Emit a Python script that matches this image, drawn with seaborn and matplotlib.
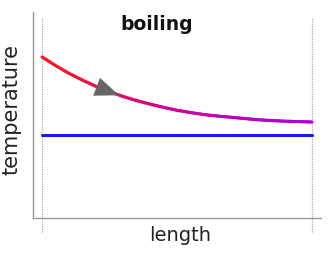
import numpy as np
import pandas as pd
import matplotlib
matplotlib.use("Agg")
import matplotlib.pyplot as plt
import seaborn as sns
from matplotlib.collections import LineCollection
from matplotlib.colors import LinearSegmentedColormap

# data
length = [0, 0.5, 1, 1.5, 2, 2.5, 3, 3.5, 4, 4.5, 5, 5.5, 6, 6.5, 7, 7.5, 8, 8.5, 9, 9.5, 10]
fluid_temp = [78.2, 74.0, 70.2, 66.9, 63.9, 61.3, 59.0, 57.0, 55.3, 53.7, 52.3,
              51.2, 50.2, 49.5, 48.9, 48.3, 47.7, 47.3, 47.0, 46.8, 46.6]
boil_length = [0, 10]
boil_temp = [40.3, 40.3]
title = "boiling"
xlabel = "length"
ylabel = "temperature"

sns.set_theme(style="white")
plt.rcParams['font.family'] = ['DejaVu Sans']

fig = plt.figure(figsize=(3.32, 2.59), dpi=100)
ax = fig.add_axes([33/332, 41/259, 288/332, 206/259])

# boiling line
sns.lineplot(x=boil_length, y=boil_temp, ax=ax, color="#1a1aff", lw=2.2)

# gradient fluid line
xs = np.asarray(length, float)
ys = np.asarray(fluid_temp, float)
pts = []
for i in range(len(xs) - 1):
    for t in np.linspace(0, 1, 8, endpoint=False):
        pts.append((xs[i] + t * (xs[i+1] - xs[i]), ys[i] + t * (ys[i+1] - ys[i])))
pts.append((xs[-1], ys[-1]))
pts = np.array(pts)
segs = np.stack([pts[:-1], pts[1:]], axis=1)
cmap = LinearSegmentedColormap.from_list("rp", ["#ff1a1a", "#d0009a", "#aa00e0"])
lc = LineCollection(segs, cmap=cmap, linewidths=2.2, capstyle="round")
lc.set_array(np.linspace(0, 1, len(segs)))
ax.add_collection(lc)

# arrow (head only, lying along the curve)
ax.annotate("", xy=(2.85, 59.6), xytext=(1.68, 65.4),
            arrowprops=dict(arrowstyle="-|>,head_length=0.85,head_width=0.34",
                            color="#666666", lw=0.1, mutation_scale=20,
                            shrinkA=0, shrinkB=0), zorder=5)

# dotted vertical guides
for xv in boil_length:
    ax.plot([xv, xv], [-6.8, 97.1], ls=(0, (1, 1)), color="#aaaaaa", lw=0.9, clip_on=False, zorder=0)

ax.set_xlim(-0.333, 10.333)
ax.set_ylim(0, 100)
ax.set_xticks([])
ax.set_yticks([])
for s in ["top", "right"]:
    ax.spines[s].set_visible(False)
for s in ["left", "bottom"]:
    ax.spines[s].set_color("#999999")
    ax.spines[s].set_linewidth(1.0)

ax.set_xlabel(xlabel, fontsize=14, color="#222222")
ax.set_ylabel(ylabel, fontsize=15, color="#222222")
ax.xaxis.set_label_coords(0.51, -0.04, transform=ax.transAxes)
ax.yaxis.set_label_coords(-0.04, 0.525, transform=ax.transAxes)
ax.xaxis.label.set_va("top")
ax.text(0.43, 0.985, title, transform=ax.transAxes, ha="center", va="top",
        fontsize=13.5, fontweight="bold", color="#111111")

fig.savefig("out.png", dpi=100)
